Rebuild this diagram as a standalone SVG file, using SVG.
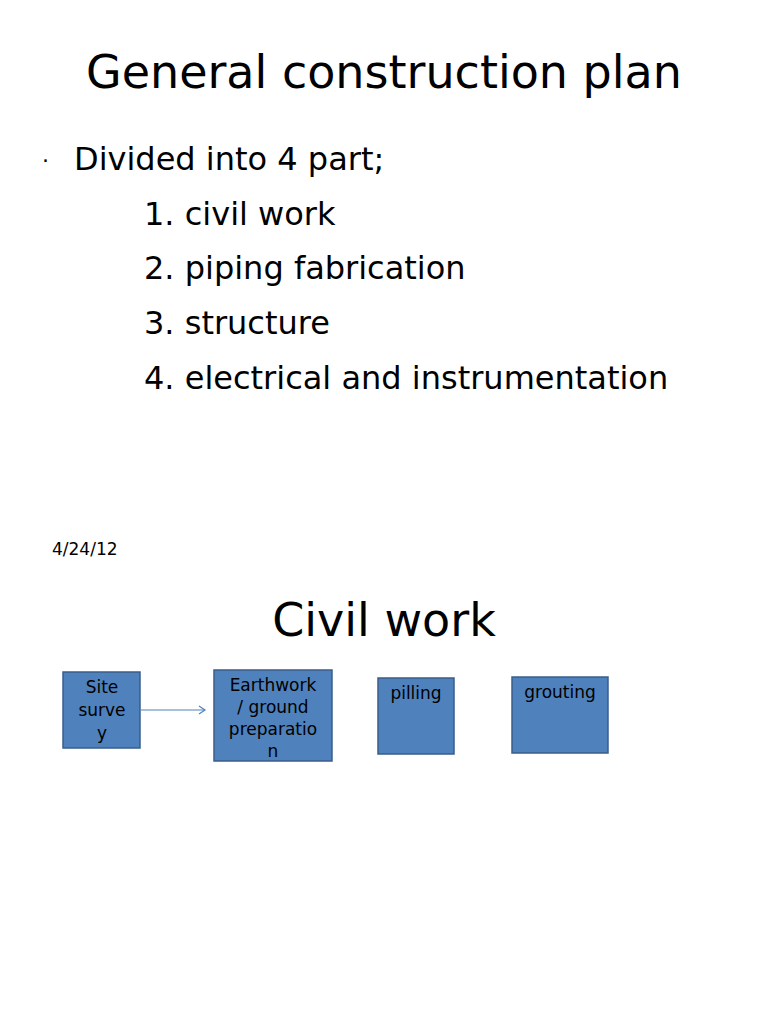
<svg xmlns="http://www.w3.org/2000/svg" width="768" height="1024" viewBox="0 0 768 1024">
<style>
text{font-family:"DejaVu Sans",sans-serif;fill:#000}
.t{font-size:46px;text-anchor:middle}
.b{font-size:32px}
.n{font-size:17px;text-anchor:middle}
.box{fill:#4f81bd;stroke:#385d8a;stroke-width:1.5}
</style>
<defs><marker id="a" markerWidth="10" markerHeight="10" refX="8" refY="5" orient="auto" markerUnits="userSpaceOnUse"><path d="M2,1 L8,5 L2,9" fill="none" stroke="#4f81bd" stroke-width="1.2"/></marker></defs>
<rect width="768" height="1024" fill="#fff"/>
<text class="t" x="384" y="88">General construction plan</text>
<text class="b" x="42" y="168" style="font-size:22px">·</text>
<text class="b" x="74" y="170">Divided into 4 part;</text>
<text class="b" x="144" y="225">1.  civil work</text>
<text class="b" x="144" y="279">2.  piping fabrication</text>
<text class="b" x="144" y="334">3.  structure</text>
<text class="b" x="144" y="389">4.  electrical and instrumentation</text>
<text x="52" y="555" style="font-size:17px">4/24/12</text>
<text class="t" x="384" y="636">Civil work</text>
<g id="connectors"><line x1="141" y1="710" x2="205" y2="710" stroke="#4f81bd" stroke-width="1" marker-end="url(#a)"/></g>
<g id="n1"><rect class="box" x="63" y="672" width="77" height="76"/><text class="n" x="102" y="693">Site</text><text class="n" x="102" y="716">surve</text><text class="n" x="102" y="739">y</text></g>
<g id="n2"><rect class="box" x="214" y="670" width="118" height="91"/><text class="n" x="273" y="691">Earthwork</text><text class="n" x="273" y="713">/ ground</text><text class="n" x="273" y="735">preparatio</text><text class="n" x="273" y="757">n</text></g>
<g id="n3"><rect class="box" x="378" y="678" width="76" height="76"/><text class="n" x="416" y="699">pilling</text></g>
<g id="n4"><rect class="box" x="512" y="677" width="96" height="76"/><text class="n" x="560" y="698">grouting</text></g>
</svg>
